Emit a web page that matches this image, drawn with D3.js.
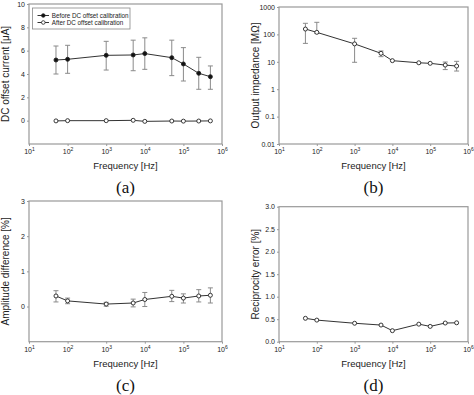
<!DOCTYPE html>
<html>
<head>
<meta charset="utf-8">
<title>Calibration results</title>
<script src="https://d3js.org/d3.v7.min.js"></script>
<style>
  body { margin: 0; background: #fff; }
  svg { display: block; font-family: "Liberation Sans", Arial, sans-serif; }
</style>
</head>
<body>
<div id="chart"></div>
<script>
// frequencies shared by all four panels
const freq = [50, 100, 1000, 5000, 10000, 50000, 100000, 250000, 500000];
const freqTicks = [1, 2, 3, 4, 5, 6];   // exponents of 10

// (a) DC offset current [uA]
const dcBefore   = [5.2, 5.26, 5.6, 5.63, 5.75, 5.4, 4.86, 4.06, 3.77];
const dcBeforeLo = [4.0, 4.06, 4.34, 4.28, 4.4, 3.86, 3.4, 2.69, 2.69];
const dcBeforeHi = [6.4, 6.46, 6.8, 6.9, 7.1, 6.9, 6.26, 5.43, 4.69];
const dcAfter    = [-0.02, 0.0, 0.0, 0.03, -0.06, -0.03, -0.04, -0.03, -0.02];
const dcTicks = [0, 2, 4, 6, 8, 10];

// (b) output impedance [MOhm]
const imp   = [157, 119, 45, 20.4, 11, 9.2, 8.8, 7.6, 7.0];
const impLo = [47, 110, 9.6, 15.4, 11, 9.2, 8.8, 5.2, 4.6];
const impHi = [254, 276, 72, 24.8, 11, 9.2, 8.8, 9.8, 10.4];
const impTicks = [0.01, 0.1, 1, 10, 100, 1000];

// (c) amplitude difference [%]
const amp   = [0.3, 0.16, 0.07, 0.1, 0.2, 0.29, 0.24, 0.3, 0.32];
const ampLo = [0.13, 0.08, 0.01, -0.01, 0.0, 0.14, 0.1, 0.13, 0.1];
const ampHi = [0.45, 0.24, 0.12, 0.21, 0.4, 0.46, 0.36, 0.48, 0.53];
const ampTicks = [0, 1, 2, 3];

// (d) reciprocity error [%]
const recip = [0.52, 0.48, 0.41, 0.37, 0.245, 0.39, 0.34, 0.415, 0.42];
const recipTicks = [0, 0.5, 1, 1.5, 2, 2.5, 3];

const svg = d3.select("#chart").append("svg")
    .attr("width", 474)
    .attr("height", 395);

function panel(p) {
    let x = d3.scaleLog().domain([10, 1e6]).range([p.left, p.right]);
    let y = (p.log ? d3.scaleLog() : d3.scaleLinear())
        .domain(p.domain).range([p.bottom, p.top]);
    let g = svg.append("g");

    // frame
    g.append("rect")
        .attr("x", p.left).attr("y", p.top)
        .attr("width", p.right - p.left).attr("height", p.bottom - p.top)
        .attr("fill", "none").attr("stroke", "#999").attr("stroke-width", 1.2);

    // x axis with 10^n labels
    let xa = g.append("g")
        .attr("transform", "translate(0," + p.bottom + ")")
        .call(d3.axisBottom(x).tickValues(freqTicks.map(e => Math.pow(10, e)))
            .tickSize(2).tickPadding(3).tickFormat(""));
    xa.select(".domain").remove();
    xa.selectAll(".tick line").attr("stroke", "#999");
    xa.selectAll(".tick text")
        .attr("fill", "#222").attr("font-size", 7)
        .each(function (d) {
            let t = d3.select(this);
            t.text("10");
            t.append("tspan").attr("font-size", 5).attr("dy", -3)
                .text(Math.round(Math.log10(d)));
        });

    // y axis
    let ya = g.append("g")
        .attr("transform", "translate(" + p.left + ",0)")
        .call(d3.axisLeft(y).tickValues(p.ticks).tickSize(2).tickPadding(2)
            .tickFormat(p.fmt));
    ya.select(".domain").remove();
    ya.selectAll(".tick line").attr("stroke", "#999");
    ya.selectAll(".tick text").attr("fill", "#222").attr("font-size", 7);

    // titles
    g.append("text")
        .attr("x", (p.left + p.right) / 2).attr("y", p.bottom + 25)
        .attr("text-anchor", "middle").attr("font-size", 9.5).attr("fill", "#222")
        .text("Frequency [Hz]");
    g.append("text")
        .attr("transform", "translate(" + (p.left - 20) + "," + ((p.top + p.bottom) / 2) + ") rotate(-90)")
        .attr("text-anchor", "middle").attr("font-size", 10).attr("fill", "#222")
        .text(p.ytitle);
    g.append("text")
        .attr("x", (p.left + p.right) / 2).attr("y", p.bottom + 49)
        .attr("text-anchor", "middle")
        .attr("font-family", "'Liberation Serif', 'Times New Roman', serif")
        .attr("font-size", 17).attr("fill", "#111")
        .text(p.label);

    p.series.forEach(function (s) {
        let pts = freq.map((f, i) => ({f: f, v: s.values[i],
            lo: s.lo ? s.lo[i] : null, hi: s.hi ? s.hi[i] : null}));
        if (s.lo) {
            let eb = g.append("g").attr("stroke", "#8a8a8a").attr("stroke-width", 1);
            pts.forEach(function (d) {
                if (d.hi - d.lo < 0.0001) return;
                eb.append("line").attr("x1", x(d.f)).attr("x2", x(d.f))
                    .attr("y1", y(d.lo)).attr("y2", y(d.hi));
                [d.lo, d.hi].forEach(function (v) {
                    eb.append("line").attr("x1", x(d.f) - 2.5).attr("x2", x(d.f) + 2.5)
                        .attr("y1", y(v)).attr("y2", y(v));
                });
            });
        }
        g.append("path").datum(pts)
            .attr("fill", "none").attr("stroke", "#333").attr("stroke-width", 1)
            .attr("d", d3.line().x(d => x(d.f)).y(d => y(d.v)));
        g.selectAll(null).data(pts).enter().append("circle")
            .attr("cx", d => x(d.f)).attr("cy", d => y(d.v)).attr("r", 2)
            .attr("fill", s.filled ? "#111" : "#fff")
            .attr("stroke", "#222").attr("stroke-width", 0.9);
    });
    return g;
}

let ga = panel({left: 29, right: 222, top: 4, bottom: 144,
    domain: [-2, 10], ticks: dcTicks, fmt: d3.format("d"),
    ytitle: "DC offset current [\u03bcA]", label: "(a)",
    series: [{values: dcBefore, lo: dcBeforeLo, hi: dcBeforeHi, filled: true},
             {values: dcAfter, filled: false}]});

panel({left: 279, right: 468, top: 7, bottom: 144, log: true,
    domain: [0.01, 1000], ticks: impTicks, fmt: d => String(d),
    ytitle: "Output impedance [M\u03a9]", label: "(b)",
    series: [{values: imp, lo: impLo, hi: impHi, filled: false}]});

panel({left: 29, right: 222, top: 201, bottom: 341.7,
    domain: [-1, 3], ticks: ampTicks, fmt: d3.format("d"),
    ytitle: "Amplitude difference [%]", label: "(c)",
    series: [{values: amp, lo: ampLo, hi: ampHi, filled: false}]});

panel({left: 279, right: 468, top: 206.7, bottom: 341.7,
    domain: [0, 3], ticks: recipTicks, fmt: d3.format(".1f"),
    ytitle: "Reciprocity error [%]", label: "(d)",
    series: [{values: recip, filled: false}]});

// legend of panel (a)
const legendNames = ["Before DC offset calibration", "After DC offset calibration"];
let lg = ga.append("g");
lg.append("rect").attr("x", 32.5).attr("y", 8).attr("width", 97.5).attr("height", 21)
    .attr("fill", "#fff").attr("stroke", "#888").attr("stroke-width", 0.8);
legendNames.forEach(function (name, i) {
    let yy = 15.5 + i * 7;
    lg.append("line").attr("x1", 37.5).attr("x2", 49).attr("y1", yy).attr("y2", yy)
        .attr("stroke", "#333");
    lg.append("circle").attr("cx", 43.3).attr("cy", yy).attr("r", 1.8)
        .attr("fill", i === 0 ? "#111" : "#fff").attr("stroke", "#222").attr("stroke-width", 0.8);
    lg.append("text").attr("x", 51.7).attr("y", yy + 2.2)
        .attr("font-size", 6.3).attr("fill", "#222").text(name);
});
</script>
</body>
</html>
